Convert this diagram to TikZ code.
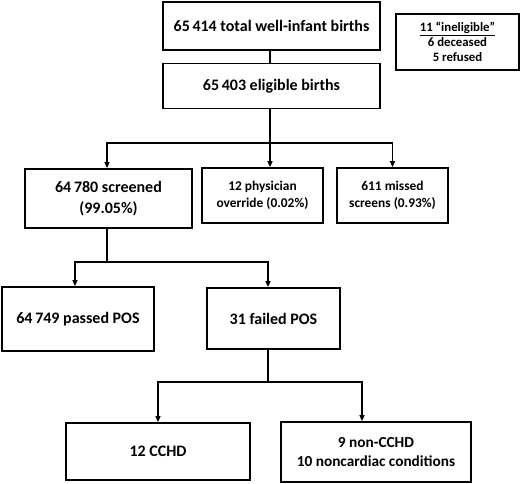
\documentclass[tikz,border=0pt]{standalone}
\usepackage{fontspec}
\setmainfont{Carlito}
\usetikzlibrary{arrows.meta}
\begin{document}
\begin{tikzpicture}[x=1pt,y=-1pt,
  box/.style={draw, line width=1.7pt, rectangle, align=center, inner sep=0pt, font=\bfseries\fontsize{16}{21}\selectfont},
  sbox/.style={box, font=\bfseries\fontsize{13.4}{17}\selectfont},
  conn/.style={line width=1.3pt},
  arr/.style={conn, -{Triangle[length=6pt,width=5pt]}}]
\useasboundingbox (0,0) rectangle (520,483);
\node[box, minimum width=217pt, minimum height=48pt] (b1) at (271.5,26) {65\,414 total well-infant births};
\node[box, minimum width=217pt, minimum height=45pt] (b2) at (271.5,86) {65\,403 eligible births};
\node[sbox, minimum width=123pt, minimum height=56pt, font=\bfseries\fontsize{12.8}{15}\selectfont] (inel) at (457.5,42) {\underline{11 “ineligible”}\\6 deceased\\5 refused};
\node[box, minimum width=167pt, minimum height=59pt] (scr) at (108.5,198.5) {64\,780 screened\\(99.05\%)};
\node[sbox, minimum width=121pt, minimum height=55pt] (phys) at (262.5,195.5) {12 physician\\override (0.02\%)};
\node[sbox, minimum width=111pt, minimum height=55pt] (miss) at (392.5,195.5) {611 missed\\screens (0.93\%)};
\node[box, minimum width=152pt, minimum height=64pt] (pass) at (78,319) {64\,749 passed POS};
\node[box, minimum width=133pt, minimum height=61pt] (fail) at (273.5,318.5) {31 failed POS};
\node[box, minimum width=184pt, minimum height=57pt] (cchd) at (158,451.5) {12 CCHD};
\node[sbox, minimum width=190pt, minimum height=60pt, font=\bfseries\fontsize{15.3}{19}\selectfont] (non) at (376,452) {9 non-CCHD\\10 noncardiac conditions};
\coordinate (j1) at (270,143);
\coordinate (j2) at (107,262);
\coordinate (j3) at (268,382);
\draw[conn] (b1.south -| j1) -- (b2.north -| j1);
\draw[conn] (b2.south -| j1) -- (j1);
\draw[arr] (j1) -| ([xshift=-1.5pt]scr.north);
\draw[arr] (j1) -- (phys.north -| j1);
\draw[arr] (j1) -| (miss.north);
\draw[conn] (scr.south -| j2) -- (j2);
\draw[arr] (j2) -| ([xshift=-3pt]pass.north);
\draw[arr] (j2) -| ([xshift=-5.5pt]fail.north);
\draw[conn] (fail.south -| j3) -- (j3);
\draw[arr] (j3) -| (cchd.north);
\draw[arr] (j3) -| ([xshift=-14pt]non.north);
\end{tikzpicture}
\end{document}
